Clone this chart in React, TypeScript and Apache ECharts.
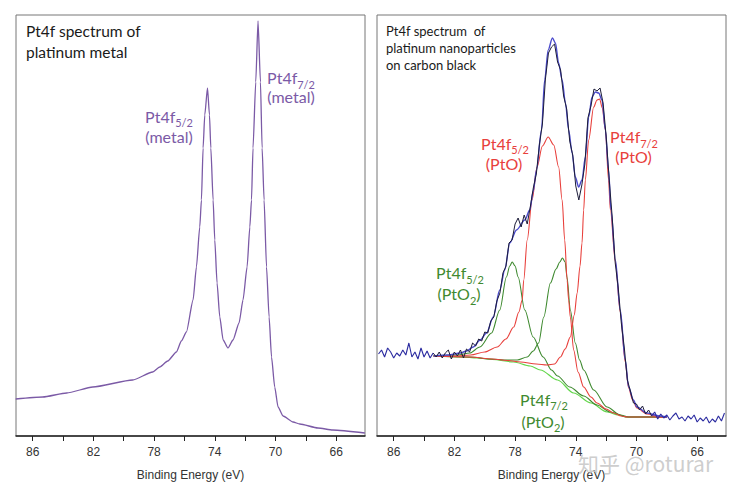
import { useEffect, useRef } from "react";
import * as echarts from "echarts";

// ---------- axes ----------
const X_MIN = 64.1;
const X_MAX = 87.1;
const Y_MAX = 421;
const tickValues = [66, 68, 70, 72, 74, 76, 78, 80, 82, 84, 86];
const tickLabels = [86, 82, 78, 74, 70, 66];

// ---------- left panel: Pt metal ----------
const metalCurve: [number, number][] = [
  [87.12, 37], [85.34, 39], [83.76, 43], [82.04, 49], [79.41, 56], [78.09, 64],
  [77.63, 69], [77.1, 75], [76.53, 84], [76.2, 95], [75.87, 104], [75.43, 136],
  [75.21, 169], [74.99, 209], [74.88, 236], [74.77, 288], [74.66, 321], [74.48, 348],
  [74.35, 321], [74.26, 288], [74.11, 236], [74.0, 196], [73.85, 153], [73.67, 119],
  [73.45, 96], [73.13, 88], [72.8, 96], [72.4, 113], [72.14, 136], [71.87, 169],
  [71.69, 209], [71.58, 236], [71.48, 288], [71.3, 354], [71.15, 415], [70.99, 354],
  [70.88, 288], [70.75, 236], [70.59, 169], [70.42, 119], [70.26, 79], [70.05, 49],
  [69.83, 29], [69.5, 20], [68.84, 14], [68.4, 12], [67.2, 8], [66.22, 6], [64.11, 3],
];

// ---------- right panel: Pt nanoparticles ----------
const rawLeft: [number, number][] = [
  [87.0, 82], [86.8, 86], [86.6, 79], [86.4, 88], [86.2, 84], [86.0, 78], [85.8, 83],
  [85.6, 80], [85.4, 86], [85.2, 81], [85.0, 93], [84.8, 79], [84.6, 84], [84.4, 77],
  [84.2, 88], [84.0, 79], [83.8, 85], [83.6, 78], [83.4, 83],
];
const rawMid: [number, number][] = [
  [83.4, 83], [83.2, 79], [83.0, 84], [82.8, 78], [82.6, 83], [82.4, 86], [82.2, 77],
  [82.0, 84], [81.8, 80], [81.6, 86], [81.4, 78], [81.2, 87], [81.0, 84], [80.8, 93],
  [80.6, 90], [80.4, 97], [80.2, 95], [80.0, 104], [79.8, 103], [79.6, 115], [79.4, 119],
  [79.2, 135], [79.0, 143], [78.8, 163], [78.6, 170], [78.4, 193], [78.2, 196],
  [78.0, 212], [77.8, 218], [77.6, 209], [77.4, 221], [77.2, 212], [77.0, 229],
  [76.8, 248], [76.6, 262], [76.4, 291], [76.2, 312], [76.0, 357], [75.8, 383],
  [75.6, 389], [75.4, 392], [75.2, 374], [75.0, 366], [74.8, 340], [74.6, 327],
  [74.4, 295], [74.2, 281], [74.0, 250], [73.8, 236], [73.6, 251], [73.4, 272],
  [73.2, 318], [73.0, 330], [72.8, 347], [72.6, 345], [72.4, 348], [72.2, 333],
  [72.0, 300], [71.8, 257], [71.6, 219], [71.4, 173], [71.2, 148], [71.0, 113],
  [70.8, 88], [70.6, 56], [70.4, 45], [70.2, 33], [70.0, 32], [69.8, 26], [69.6, 30],
  [69.4, 22], [69.2, 26], [69.0, 20],
];
const rawRight: [number, number][] = [
  [69.0, 20], [68.8, 24], [68.6, 17], [68.4, 22], [68.2, 18], [68.0, 21], [67.8, 16],
  [67.6, 20], [67.4, 23], [67.2, 17], [67.0, 19], [66.8, 15], [66.6, 20], [66.4, 17],
  [66.2, 21], [66.0, 14], [65.8, 18], [65.6, 15], [65.4, 19], [65.2, 13], [65.0, 17],
  [64.8, 14], [64.6, 20], [64.4, 15], [64.2, 23],
];
const envelope: [number, number][] = [
  [83.37, 80], [82.4, 81], [81.6, 83], [81.2, 85], [80.76, 89], [80.3, 96], [79.88, 103],
  [79.44, 119], [79.01, 146], [78.68, 166], [78.35, 193], [77.91, 206], [77.36, 216],
  [77.03, 226], [76.8, 245], [76.59, 266], [76.26, 306], [76.05, 356], [75.82, 386],
  [75.54, 398], [75.34, 393], [75.13, 373], [74.9, 356], [74.68, 333], [74.47, 306],
  [74.24, 283], [74.03, 259], [73.81, 249], [73.59, 256], [73.37, 279], [73.15, 319],
  [72.93, 339], [72.71, 344], [72.49, 343], [72.27, 336], [72.05, 306], [71.84, 266],
  [71.68, 226], [71.39, 176], [71.07, 126], [70.74, 76], [70.52, 49], [70.2, 36],
  [69.97, 29], [69.31, 23], [68.5, 20], [67.99, 19],
];
const ptoF52: [number, number][] = [
  [83.37, 80], [82.0, 80], [80.93, 81], [80.0, 84], [79.18, 89], [78.6, 97], [78.09, 109],
  [77.75, 124], [77.53, 136], [77.43, 156], [77.2, 196], [76.88, 236], [76.55, 269],
  [76.2, 290], [75.82, 299], [75.45, 291], [75.13, 269], [74.9, 236], [74.73, 196],
  [74.57, 156], [74.47, 136], [74.36, 119], [74.14, 86], [73.85, 64], [73.48, 49],
  [73.0, 39], [72.6, 33], [72.0, 27], [71.51, 23], [71.0, 20], [70.6, 19], [67.99, 19],
];
const ptoF72: [number, number][] = [
  [83.37, 80], [80.93, 79], [79.5, 77], [78.5, 75.5], [77.64, 74], [76.6, 72], [75.89, 71],
  [75.4, 72], [75.01, 79], [74.7, 87], [74.36, 99], [74.1, 121], [73.91, 143],
  [73.72, 170], [73.59, 193], [73.48, 226], [73.37, 256], [73.15, 296], [72.82, 329],
  [72.6, 336], [72.43, 337], [72.25, 328], [72.05, 306], [71.84, 256], [71.72, 226],
  [71.39, 174], [71.07, 124], [70.74, 74], [70.52, 48], [70.25, 36], [69.97, 28],
  [69.31, 22], [68.5, 19], [67.99, 19],
];
const pto2F52: [number, number][] = [
  [83.37, 80], [81.8, 81], [80.98, 83], [80.32, 89], [79.55, 103], [79.01, 126],
  [78.57, 159], [78.35, 170], [78.19, 174], [78.0, 170], [77.8, 159], [77.36, 126],
  [76.81, 99], [76.15, 79], [75.6, 66], [75.2, 60], [74.4, 49], [73.48, 40], [72.6, 31],
  [71.72, 24], [70.63, 19], [67.99, 19],
];
const pto2F72: [number, number][] = [
  [83.37, 80], [81.0, 79], [79.62, 77], [78.5, 76], [77.86, 76], [77.2, 79], [76.8, 85],
  [76.45, 93], [76.11, 119], [75.67, 153], [75.3, 167], [75.05, 174], [74.88, 178],
  [74.7, 174], [74.58, 159], [74.36, 126], [74.03, 93], [73.75, 76], [73.48, 66],
  [72.82, 46], [71.94, 29], [71.07, 21], [70.5, 19], [67.99, 19],
];
const background: [number, number][] = [
  [83.37, 80], [81.5, 79], [80.5, 78], [79.5, 76.5], [78.1, 74], [77.0, 70], [76.33, 66],
  [75.2, 56], [74.14, 43], [73.0, 33], [71.94, 24], [71.2, 21], [70.63, 19], [67.99, 19],
];

// ---------- styles ----------
const FONT = "Lato, 'Open Sans', sans-serif";
const AXIS_FONT = "'Liberation Sans', Arial, sans-serif";
const PURPLE = "#7b5aa6";
const RED = "#e8403c";
const GREEN = "#3f8a30";
const LIGHT_GREEN = "#62d64a";

function xAxis(i: number) {
  return {
    type: "value",
    gridIndex: i,
    min: X_MIN,
    max: X_MAX,
    inverse: true,
    axisLine: { show: true, onZero: false, lineStyle: { color: "#222", width: 1.5 } },
    axisTick: { show: true, length: 5, inside: false, customValues: tickValues, lineStyle: { color: "#222" } },
    axisLabel: { customValues: tickLabels, margin: 10, fontSize: 12, color: "#333", fontFamily: AXIS_FONT },
    splitLine: { show: false },
    name: "Binding Energy (eV)",
    nameLocation: "middle",
    nameGap: 33,
    nameTextStyle: { fontSize: 12, color: "#333", fontFamily: AXIS_FONT },
  };
}
function yAxis(i: number) {
  return { type: "value", gridIndex: i, min: 0, max: Y_MAX, show: false };
}
function line(name: string, data: [number, number][], idx: number, color: string, width: number, smooth: number | boolean, z: number) {
  return {
    name,
    type: "line",
    xAxisIndex: idx,
    yAxisIndex: idx,
    data,
    showSymbol: false,
    symbol: "none",
    smooth,
    smoothMonotone: "x",
    clip: true,
    z,
    lineStyle: { color, width },
    emphasis: { disabled: true },
  };
}
function rich(color: string) {
  return {
    m: { fontSize: 16, lineHeight: 16, verticalAlign: "top", fill: color, fontFamily: FONT },
    s: { fontSize: 11, lineHeight: 11, padding: [9, 0, 0, 0], verticalAlign: "top", fill: color, fontFamily: FONT },
  };
}
function labelLine(text: string, cx: number, cy: number, color: string) {
  return {
    type: "text",
    x: cx,
    y: cy - 8,
    z: 100,
    style: { text, rich: rich(color), align: "center", verticalAlign: "top", fill: color, fontFamily: FONT, fontSize: 16 },
  };
}
function plain(text: string, x: number, cy: number, size: number) {
  return {
    type: "text",
    x,
    y: cy,
    z: 100,
    style: { text, align: "left", verticalAlign: "middle", fill: "#1a1a1a", fontFamily: FONT, fontSize: size },
  };
}

export default function App() {
  const ref = useRef<HTMLDivElement>(null);
  useEffect(() => {
    if (!ref.current) return;
    const chart = echarts.init(ref.current, null, { renderer: "svg" });
    const option: any = {
      animation: false,
      backgroundColor: "#ffffff",
      grid: [
        { left: 16, top: 15, width: 349, height: 421, show: true, borderColor: "#777", borderWidth: 1, outerBoundsMode: "none" },
        { left: 377, top: 15, width: 349, height: 421, show: true, borderColor: "#777", borderWidth: 1, outerBoundsMode: "none" },
      ],
      xAxis: [xAxis(0), xAxis(1)],
      yAxis: [yAxis(0), yAxis(1)],
      series: [
        line("metal", metalCurve, 0, PURPLE, 1.3, 0.2, 5),
        line("background", background, 1, LIGHT_GREEN, 1.2, 0.3, 2),
        line("PtO2 4f5/2", pto2F52, 1, GREEN, 1.1, 0.3, 3),
        line("PtO2 4f7/2", pto2F72, 1, GREEN, 1.1, 0.3, 3),
        line("PtO 4f5/2", ptoF52, 1, RED, 1.1, 0.3, 4),
        line("PtO 4f7/2", ptoF72, 1, RED, 1.1, 0.3, 4),
        line("envelope", envelope, 1, "#4b4bcc", 1.4, 0.3, 5),
        line("raw mid", rawMid, 1, "#1d1d3a", 1, false, 6),
        line("raw left", rawLeft, 1, "#2b2ba0", 1.1, false, 6),
        line("raw right", rawRight, 1, "#2b2ba0", 1.1, false, 6),
      ],
      graphic: [
        plain("Pt4f spectrum of", 26, 31, 15.5),
        plain("platinum metal", 26, 52, 15.5),
        plain("Pt4f spectrum  of", 386, 31, 13),
        plain("platinum nanoparticles", 386, 48, 13),
        plain("on carbon black", 386, 65, 13),
        labelLine("{m|Pt4f}{s|5/2}", 169, 116, PURPLE),
        labelLine("{m|(metal)}", 169, 136, PURPLE),
        labelLine("{m|Pt4f}{s|7/2}", 291, 77.5, PURPLE),
        labelLine("{m|(metal)}", 291, 96, PURPLE),
        labelLine("{m|Pt4f}{s|5/2}", 505, 143, RED),
        labelLine("{m|(PtO)}", 504, 163, RED),
        labelLine("{m|Pt4f}{s|7/2}", 634, 136.5, RED),
        labelLine("{m|(PtO)}", 633.5, 156, RED),
        labelLine("{m|Pt4f}{s|5/2}", 460, 272.5, GREEN),
        labelLine("{m|(PtO}{s|2}{m|)}", 459, 293.5, GREEN),
        labelLine("{m|Pt4f}{s|7/2}", 544, 399, GREEN),
        labelLine("{m|(PtO}{s|2}{m|)}", 543, 421, GREEN),
        {
          type: "text",
          x: 578,
          y: 463,
          z: 200,
          style: {
            text: "知乎 @roturar",
            align: "left",
            verticalAlign: "middle",
            fill: "rgba(200,200,200,0.9)",
            fontFamily: "'Noto Sans CJK SC', 'Noto Sans', sans-serif",
            fontSize: 21,
          },
        },
      ],
    };
    chart.setOption(option);
    return () => chart.dispose();
  }, []);
  return (
    <div
      ref={ref}
      style={{ position: "fixed", left: 0, top: 0, width: 740, height: 493, background: "#fff" }}
    />
  );
}
